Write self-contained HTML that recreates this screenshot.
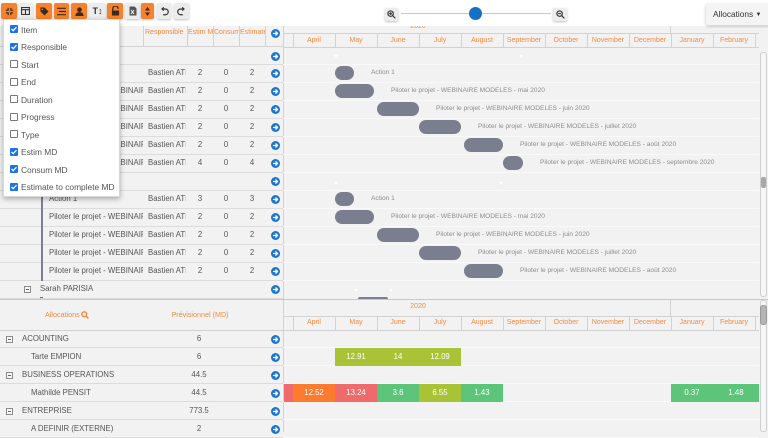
<!DOCTYPE html>
<html><head><meta charset="utf-8">
<style>
*{margin:0;padding:0;box-sizing:border-box}
body{width:768px;height:432px;overflow:hidden;background:#f2f2f2;font-family:"Liberation Sans",Arial,sans-serif;position:relative;color:#555}
.a{position:absolute}
.t{position:absolute;white-space:nowrap;line-height:10px;height:10px}
.row{position:absolute;left:0;width:283px;height:18px;border-bottom:1px solid #dcdcdc}
.grow{position:absolute;left:283px;width:476px;height:18px;border-bottom:1px solid #f9f9f9}
.tx{font-size:7.8px;color:#555}
.clip{position:absolute;overflow:hidden;white-space:nowrap;line-height:10px;height:10px}
.num{position:absolute;width:26px;text-align:center;font-size:7.8px;line-height:10px;color:#555}
.ar{position:absolute;left:271px}
.hd{color:#f58a3e;font-size:7px}
.mo{position:absolute;width:42px;text-align:center;font-size:7px;color:#f58a3e;line-height:10px}
.vl{position:absolute;width:1px;background:#d2d2d2}
.hl{position:absolute;height:1px;background:#d2d2d2}
.bar{position:absolute;height:14.5px;border-radius:7px;background:#7b7e8e}
.gl{position:absolute;font-size:6.6px;color:#8d8d8d;white-space:nowrap;line-height:10px}
.b{position:absolute;top:3px;height:16px;border-radius:2px;box-shadow:0 1px 2px rgba(0,0,0,.25);display:flex;align-items:center;justify-content:center}
.o{background:#f7812c}
.g{background:#ececec}
.mb{position:absolute;width:7px;height:7px;border:1px solid #8a8a8a;background:#f7f7f7}
.mb:after{content:"";position:absolute;left:1px;top:2px;width:3px;height:1px;background:#666}
.cell{position:absolute;height:18px;color:#fff;font-size:7.8px;line-height:18px;text-align:center}
.dd{position:absolute;left:3px;top:19px;width:117px;height:178px;background:#fff;border:1px solid #d8d8d8;box-shadow:0 2px 5px rgba(0,0,0,.3);z-index:10}
.it{position:absolute;left:17px;font-size:8.4px;color:#555;line-height:10px;white-space:nowrap}
.cb{position:absolute;left:6px;width:8px;height:8px;border-radius:1px;line-height:0;overflow:hidden}
.cb svg{display:block}
.ck{background:#1a73e8}
.uc{background:#fff;border:1px solid #777}
.tri{position:absolute;width:0;height:0;border-left:2px solid transparent;border-right:2px solid transparent;border-top:3px solid #fff}
</style></head><body>

<!-- top white bar -->
<div class="a" style="left:0;top:0;width:768px;height:26px;background:#fff;z-index:5"></div>

<!-- toolbar -->
<div style="position:absolute;left:0;top:0;z-index:6">
<div class="b o" style="left:1px;width:16px"><svg width="9" height="9" viewBox="0 0 10 10" fill="none" stroke="#3a2a20" stroke-width="1.3"><path d="M1 3.5h2.5V1M6.5 1v2.5H9M9 6.5H6.5V9M3.5 9V6.5H1"/></svg></div>
<div class="b g" style="left:18px;width:15px"><svg width="9" height="8" viewBox="0 0 10 9" fill="none" stroke="#333" stroke-width="1.2"><rect x="0.6" y="0.6" width="8.8" height="7.8"/><path d="M0.6 3h8.8M5 3v5.4"/></svg></div>
<div class="b o" style="left:36px;width:16px"><svg width="9" height="9" viewBox="0 0 10 10"><path d="M0.5 0.5h4.5l4.5 4.5-4.5 4.5-4.5-4.5z" fill="#3a2a20"/><circle cx="2.6" cy="2.6" r="0.9" fill="#f7812c"/></svg></div>
<div class="b o" style="left:54px;width:15px"><svg width="9" height="9" viewBox="0 0 10 10" stroke="#3a2a20" stroke-width="1.3"><path d="M0 1.5h10M2 5h8M0 8.5h10"/></svg></div>
<div class="b o" style="left:71px;width:16px"><svg width="9" height="9" viewBox="0 0 10 10" fill="#3a2a20"><circle cx="5" cy="3" r="2.6"/><path d="M0.5 10c0-3 2-4.3 4.5-4.3s4.5 1.3 4.5 4.3z"/></svg></div>
<div class="b g" style="left:89px;width:17px;font-size:9px;font-weight:bold;color:#333">T↕</div>
<div class="b o" style="left:107px;width:16px"><svg width="9" height="10" viewBox="0 0 10 11"><path d="M2 5V3a3 3 0 0 1 6 0" fill="none" stroke="#3a2a20" stroke-width="1.4"/><rect x="1" y="5" width="8" height="5.5" fill="#3a2a20"/></svg></div>
<div class="b g" style="left:125px;width:15px"><svg width="8" height="10" viewBox="0 0 8 10"><path d="M0.5 0.5h5l2 2v7h-7z" fill="#555"/><path d="M2 4l3 4M5 4l-3 4" stroke="#fff" stroke-width="0.9"/></svg></div>
<div class="b o" style="left:141px;width:13px"><svg width="5" height="9" viewBox="0 0 5 9" fill="#3a2a20"><path d="M2.5 0 5 3.5H0zM2.5 9 5 5.5H0z"/></svg></div>
<div class="b g" style="left:157px;width:14px"><svg width="9" height="9" viewBox="0 0 10 10" fill="none" stroke="#333" stroke-width="1.3"><path d="M3 2.2h3a3.2 3.2 0 0 1 0 6.4H3.5"/><path d="M4.2 0.4 2.2 2.2 4.2 4" /></svg></div>
<div class="b g" style="left:174px;width:15px"><svg width="9" height="9" viewBox="0 0 10 10" fill="none" stroke="#333" stroke-width="1.3"><path d="M7 2.2H4a3.2 3.2 0 0 0 0 6.4h2.5"/><path d="M5.8 0.4 7.8 2.2 5.8 4"/></svg></div>
</div>

<!-- slider -->
<div style="position:absolute;left:0;top:0;z-index:6">
<div class="a" style="left:385px;top:8px;width:13px;height:13px;background:#ececec;border-radius:2px;box-shadow:0 1px 2px rgba(0,0,0,.25)"><svg class="a" style="left:2px;top:2px" width="9" height="9" viewBox="0 0 10 10" fill="none" stroke="#333" stroke-width="1.3"><circle cx="4" cy="4" r="3"/><path d="M6.2 6.2 9.3 9.3M2.5 4h3M4 2.5v3"/></svg></div>
<div class="a" style="left:401px;top:13px;width:150px;height:1px;background:#c8c8c8"></div>
<div class="a" style="left:468.5px;top:6.5px;width:13px;height:13px;border-radius:50%;background:#1570c6"></div>
<div class="a" style="left:553px;top:8px;width:14px;height:13px;background:#ececec;border-radius:2px;box-shadow:0 1px 2px rgba(0,0,0,.25)"><svg class="a" style="left:2.5px;top:2px" width="9" height="9" viewBox="0 0 10 10" fill="none" stroke="#333" stroke-width="1.3"><circle cx="4" cy="4" r="3"/><path d="M6.2 6.2 9.3 9.3M2.5 4h3"/></svg></div>
<div class="a" style="left:706px;top:4px;width:64px;height:21px;background:#f4f4f4;border-radius:2px;box-shadow:0 1px 3px rgba(0,0,0,.25);font-size:8.3px;color:#333;line-height:21px;padding-left:7px;white-space:nowrap">Allocations <span style="font-size:6px;position:relative;top:-1px">▼</span></div>
</div>

<!-- UPPER LEFT TABLE -->
<div class="a" style="left:0;top:26px;width:283px;height:21px;border-bottom:1px solid #d2d2d2"></div>
<div class="vl" style="left:143px;top:26px;height:21px"></div>
<div class="vl" style="left:187px;top:26px;height:21px"></div>
<div class="vl" style="left:213px;top:26px;height:21px"></div>
<div class="vl" style="left:239px;top:26px;height:21px"></div>
<div class="vl" style="left:265px;top:26px;height:21px"></div>
<div class="clip hd" style="left:20px;top:28px;width:120px">Item</div>
<div class="clip hd" style="left:145px;top:28px;width:41px">Responsible</div>
<div class="clip hd" style="left:188px;top:28px;width:25px">Estim MD</div>
<div class="clip hd" style="left:214px;top:28px;width:25px">Consum MD</div>
<div class="clip hd" style="left:240px;top:28px;width:25px">Estimate to complete MD</div>
<svg class="ar" style="top:28.5px" width="9" height="9" viewBox="0 0 10 10"><circle cx="5" cy="5" r="5" fill="#1c75cf"/><path d="M2.3 5H7M5 2.8 7.2 5 5 7.2" stroke="#fff" stroke-width="1.5" fill="none"/></svg>

<div class="row" style="top:47px"></div>
<div class="row" style="top:65px"></div>
<div class="row" style="top:83px"></div>
<div class="row" style="top:101px"></div>
<div class="row" style="top:119px"></div>
<div class="row" style="top:137px"></div>
<div class="row" style="top:155px"></div>
<div class="row" style="top:173px"></div>
<div class="row" style="top:191px"></div>
<div class="row" style="top:209px"></div>
<div class="row" style="top:227px"></div>
<div class="row" style="top:245px"></div>
<div class="row" style="top:263px"></div>
<div class="row" style="top:281px"></div>

<!-- vertical bars -->
<div class="a" style="left:41px;top:65px;width:2px;height:108px;background:#7b7e8e"></div>
<div class="a" style="left:41px;top:191px;width:2px;height:90px;background:#7b7e8e"></div>

<!-- row texts -->
<div class="mb" style="left:24px;top:52px"></div><div class="clip tx" style="left:40px;top:51px;width:100px">Bastien ATI</div>
<div class="clip tx" style="left:49px;top:68px;width:94px">Action 1</div>
<div class="clip tx" style="left:49px;top:86px;width:94px">Piloter le projet - WEBINAIRE MODELES - mai 2020</div>
<div class="clip tx" style="left:49px;top:104px;width:94px">Piloter le projet - WEBINAIRE MODELES - juin 2020</div>
<div class="clip tx" style="left:49px;top:122px;width:94px">Piloter le projet - WEBINAIRE MODELES - juillet 2020</div>
<div class="clip tx" style="left:49px;top:140px;width:94px">Piloter le projet - WEBINAIRE MODELES - août 2020</div>
<div class="clip tx" style="left:49px;top:158px;width:94px">Piloter le projet - WEBINAIRE MODELES - septembre 2020</div>
<div class="mb" style="left:24px;top:178px"></div><div class="clip tx" style="left:40px;top:177px;width:100px">Bastien ATI</div>
<div class="clip tx" style="left:49px;top:194px;width:94px">Action 1</div>
<div class="clip tx" style="left:49px;top:212px;width:94px">Piloter le projet - WEBINAIRE MODELES - mai 2020</div>
<div class="clip tx" style="left:49px;top:230px;width:94px">Piloter le projet - WEBINAIRE MODELES - juin 2020</div>
<div class="clip tx" style="left:49px;top:248px;width:94px">Piloter le projet - WEBINAIRE MODELES - juillet 2020</div>
<div class="clip tx" style="left:49px;top:266px;width:94px">Piloter le projet - WEBINAIRE MODELES - août 2020</div>
<div class="mb" style="left:24px;top:286px"></div><div class="clip tx" style="left:40px;top:284px;width:100px">Sarah PARISIA</div>

<!-- responsible + numbers -->
<div class="clip tx" style="left:148px;top:68px;width:38px">Bastien ATI</div><div class="num" style="left:187px;top:68px">2</div><div class="num" style="left:213px;top:68px">0</div><div class="num" style="left:239px;top:68px">2</div>
<div class="clip tx" style="left:148px;top:86px;width:38px">Bastien ATI</div><div class="num" style="left:187px;top:86px">2</div><div class="num" style="left:213px;top:86px">0</div><div class="num" style="left:239px;top:86px">2</div>
<div class="clip tx" style="left:148px;top:104px;width:38px">Bastien ATI</div><div class="num" style="left:187px;top:104px">2</div><div class="num" style="left:213px;top:104px">0</div><div class="num" style="left:239px;top:104px">2</div>
<div class="clip tx" style="left:148px;top:122px;width:38px">Bastien ATI</div><div class="num" style="left:187px;top:122px">2</div><div class="num" style="left:213px;top:122px">0</div><div class="num" style="left:239px;top:122px">2</div>
<div class="clip tx" style="left:148px;top:140px;width:38px">Bastien ATI</div><div class="num" style="left:187px;top:140px">2</div><div class="num" style="left:213px;top:140px">0</div><div class="num" style="left:239px;top:140px">2</div>
<div class="clip tx" style="left:148px;top:158px;width:38px">Bastien ATI</div><div class="num" style="left:187px;top:158px">4</div><div class="num" style="left:213px;top:158px">0</div><div class="num" style="left:239px;top:158px">4</div>
<div class="clip tx" style="left:148px;top:194px;width:38px">Bastien ATI</div><div class="num" style="left:187px;top:194px">3</div><div class="num" style="left:213px;top:194px">0</div><div class="num" style="left:239px;top:194px">3</div>
<div class="clip tx" style="left:148px;top:212px;width:38px">Bastien ATI</div><div class="num" style="left:187px;top:212px">2</div><div class="num" style="left:213px;top:212px">0</div><div class="num" style="left:239px;top:212px">2</div>
<div class="clip tx" style="left:148px;top:230px;width:38px">Bastien ATI</div><div class="num" style="left:187px;top:230px">2</div><div class="num" style="left:213px;top:230px">0</div><div class="num" style="left:239px;top:230px">2</div>
<div class="clip tx" style="left:148px;top:248px;width:38px">Bastien ATI</div><div class="num" style="left:187px;top:248px">2</div><div class="num" style="left:213px;top:248px">0</div><div class="num" style="left:239px;top:248px">2</div>
<div class="clip tx" style="left:148px;top:266px;width:38px">Bastien ATI</div><div class="num" style="left:187px;top:266px">2</div><div class="num" style="left:213px;top:266px">0</div><div class="num" style="left:239px;top:266px">2</div>

<!-- arrows upper -->
<svg class="ar" style="top:51.5px" width="9" height="9" viewBox="0 0 10 10"><circle cx="5" cy="5" r="5" fill="#1c75cf"/><path d="M2.3 5H7M5 2.8 7.2 5 5 7.2" stroke="#fff" stroke-width="1.5" fill="none"/></svg>
<svg class="ar" style="top:69px" width="9" height="9" viewBox="0 0 10 10"><circle cx="5" cy="5" r="5" fill="#1c75cf"/><path d="M2.3 5H7M5 2.8 7.2 5 5 7.2" stroke="#fff" stroke-width="1.5" fill="none"/></svg>
<svg class="ar" style="top:87px" width="9" height="9" viewBox="0 0 10 10"><circle cx="5" cy="5" r="5" fill="#1c75cf"/><path d="M2.3 5H7M5 2.8 7.2 5 5 7.2" stroke="#fff" stroke-width="1.5" fill="none"/></svg>
<svg class="ar" style="top:105px" width="9" height="9" viewBox="0 0 10 10"><circle cx="5" cy="5" r="5" fill="#1c75cf"/><path d="M2.3 5H7M5 2.8 7.2 5 5 7.2" stroke="#fff" stroke-width="1.5" fill="none"/></svg>
<svg class="ar" style="top:123px" width="9" height="9" viewBox="0 0 10 10"><circle cx="5" cy="5" r="5" fill="#1c75cf"/><path d="M2.3 5H7M5 2.8 7.2 5 5 7.2" stroke="#fff" stroke-width="1.5" fill="none"/></svg>
<svg class="ar" style="top:141px" width="9" height="9" viewBox="0 0 10 10"><circle cx="5" cy="5" r="5" fill="#1c75cf"/><path d="M2.3 5H7M5 2.8 7.2 5 5 7.2" stroke="#fff" stroke-width="1.5" fill="none"/></svg>
<svg class="ar" style="top:159px" width="9" height="9" viewBox="0 0 10 10"><circle cx="5" cy="5" r="5" fill="#1c75cf"/><path d="M2.3 5H7M5 2.8 7.2 5 5 7.2" stroke="#fff" stroke-width="1.5" fill="none"/></svg>
<svg class="ar" style="top:177px" width="9" height="9" viewBox="0 0 10 10"><circle cx="5" cy="5" r="5" fill="#1c75cf"/><path d="M2.3 5H7M5 2.8 7.2 5 5 7.2" stroke="#fff" stroke-width="1.5" fill="none"/></svg>
<svg class="ar" style="top:195px" width="9" height="9" viewBox="0 0 10 10"><circle cx="5" cy="5" r="5" fill="#1c75cf"/><path d="M2.3 5H7M5 2.8 7.2 5 5 7.2" stroke="#fff" stroke-width="1.5" fill="none"/></svg>
<svg class="ar" style="top:213px" width="9" height="9" viewBox="0 0 10 10"><circle cx="5" cy="5" r="5" fill="#1c75cf"/><path d="M2.3 5H7M5 2.8 7.2 5 5 7.2" stroke="#fff" stroke-width="1.5" fill="none"/></svg>
<svg class="ar" style="top:231px" width="9" height="9" viewBox="0 0 10 10"><circle cx="5" cy="5" r="5" fill="#1c75cf"/><path d="M2.3 5H7M5 2.8 7.2 5 5 7.2" stroke="#fff" stroke-width="1.5" fill="none"/></svg>
<svg class="ar" style="top:249px" width="9" height="9" viewBox="0 0 10 10"><circle cx="5" cy="5" r="5" fill="#1c75cf"/><path d="M2.3 5H7M5 2.8 7.2 5 5 7.2" stroke="#fff" stroke-width="1.5" fill="none"/></svg>
<svg class="ar" style="top:267px" width="9" height="9" viewBox="0 0 10 10"><circle cx="5" cy="5" r="5" fill="#1c75cf"/><path d="M2.3 5H7M5 2.8 7.2 5 5 7.2" stroke="#fff" stroke-width="1.5" fill="none"/></svg>
<svg class="ar" style="top:285px" width="9" height="9" viewBox="0 0 10 10"><circle cx="5" cy="5" r="5" fill="#1c75cf"/><path d="M2.3 5H7M5 2.8 7.2 5 5 7.2" stroke="#fff" stroke-width="1.5" fill="none"/></svg>
<div class="a" style="left:40px;top:297px;width:3px;height:1px;background:#666"></div>

<!-- separator between table and gantt -->
<div class="vl" style="left:283px;top:26px;height:406px"></div>

<!-- UPPER GANTT HEADER -->
<div class="t" style="left:398px;top:22px;width:40px;text-align:center;font-size:7px;color:#f58a3e">2020</div>
<div class="vl" style="left:670px;top:26px;height:7px"></div>
<div class="hl" style="left:284px;top:33px;width:475px"></div>
<div class="hl" style="left:284px;top:47px;width:475px"></div>
<div class="vl" style="left:293px;top:33px;height:14px"></div>
<div class="vl" style="left:335px;top:33px;height:14px"></div>
<div class="vl" style="left:377px;top:33px;height:14px"></div>
<div class="vl" style="left:419px;top:33px;height:14px"></div>
<div class="vl" style="left:461px;top:33px;height:14px"></div>
<div class="vl" style="left:503px;top:33px;height:14px"></div>
<div class="vl" style="left:545px;top:33px;height:14px"></div>
<div class="vl" style="left:587px;top:33px;height:14px"></div>
<div class="vl" style="left:629px;top:33px;height:14px"></div>
<div class="vl" style="left:671px;top:33px;height:14px"></div>
<div class="vl" style="left:713px;top:33px;height:14px"></div>
<div class="vl" style="left:755px;top:33px;height:14px"></div>
<div class="mo" style="left:293px;top:36px">April</div>
<div class="mo" style="left:335px;top:36px">May</div>
<div class="mo" style="left:377px;top:36px">June</div>
<div class="mo" style="left:419px;top:36px">July</div>
<div class="mo" style="left:461px;top:36px">August</div>
<div class="mo" style="left:503px;top:36px">September</div>
<div class="mo" style="left:545px;top:36px">October</div>
<div class="mo" style="left:587px;top:36px">November</div>
<div class="mo" style="left:629px;top:36px">December</div>
<div class="mo" style="left:671px;top:36px">January</div>
<div class="mo" style="left:713px;top:36px">February</div>

<!-- gantt rows -->
<div class="grow" style="top:47px"></div><div class="grow" style="top:65px"></div><div class="grow" style="top:83px"></div><div class="grow" style="top:101px"></div><div class="grow" style="top:119px"></div><div class="grow" style="top:137px"></div><div class="grow" style="top:155px"></div><div class="grow" style="top:173px"></div><div class="grow" style="top:191px"></div><div class="grow" style="top:209px"></div><div class="grow" style="top:227px"></div><div class="grow" style="top:245px"></div><div class="grow" style="top:263px"></div>

<!-- summary markers -->
<div class="tri" style="left:334px;top:55px"></div><div class="tri" style="left:519px;top:55px"></div>
<div class="tri" style="left:334px;top:182px"></div><div class="tri" style="left:499px;top:182px"></div>
<div class="tri" style="left:354px;top:289px"></div><div class="tri" style="left:389px;top:289px"></div>
<div class="a" style="left:358px;top:297px;width:30px;height:3px;background:#7b7e8e;border-radius:2px 2px 0 0"></div>

<!-- bars -->
<div class="bar" style="left:335px;top:65.5px;width:19px"></div><div class="gl" style="left:371px;top:67.7px">Action 1</div>
<div class="bar" style="left:335px;top:83.5px;width:39px"></div><div class="gl" style="left:391px;top:85.7px">Piloter le projet - WEBINAIRE MODELES - mai 2020</div>
<div class="bar" style="left:377px;top:101.5px;width:42px"></div><div class="gl" style="left:436px;top:103.7px">Piloter le projet - WEBINAIRE MODELES - juin 2020</div>
<div class="bar" style="left:419px;top:119.5px;width:42px"></div><div class="gl" style="left:478px;top:121.7px">Piloter le projet - WEBINAIRE MODELES - juillet 2020</div>
<div class="bar" style="left:464px;top:137.5px;width:39px"></div><div class="gl" style="left:520px;top:139.7px">Piloter le projet - WEBINAIRE MODELES - août 2020</div>
<div class="bar" style="left:503px;top:155.5px;width:20px"></div><div class="gl" style="left:540px;top:157.7px">Piloter le projet - WEBINAIRE MODELES - septembre 2020</div>
<div class="bar" style="left:335px;top:191.5px;width:19px"></div><div class="gl" style="left:371px;top:193.7px">Action 1</div>
<div class="bar" style="left:335px;top:209.5px;width:39px"></div><div class="gl" style="left:391px;top:211.7px">Piloter le projet - WEBINAIRE MODELES - mai 2020</div>
<div class="bar" style="left:377px;top:227.5px;width:42px"></div><div class="gl" style="left:436px;top:229.7px">Piloter le projet - WEBINAIRE MODELES - juin 2020</div>
<div class="bar" style="left:419px;top:245.5px;width:42px"></div><div class="gl" style="left:478px;top:247.7px">Piloter le projet - WEBINAIRE MODELES - juillet 2020</div>
<div class="bar" style="left:464px;top:263.5px;width:39px"></div><div class="gl" style="left:520px;top:265.7px">Piloter le projet - WEBINAIRE MODELES - août 2020</div>

<!-- upper scrollbar -->
<div class="a" style="left:760px;top:52px;width:7px;height:245px;border:1px solid #cfcfcf;border-radius:3px;background:#f6f6f6"></div>
<div class="a" style="left:761px;top:177px;width:5px;height:11px;border-radius:2px;background:#a8a8a8"></div>

<!-- pane divider -->
<div class="hl" style="left:0;top:299px;width:768px;background:#c8c8c8"></div>

<!-- LOWER LEFT -->
<div class="a" style="left:0;top:330px;width:283px;height:1px;background:#d2d2d2"></div>
<div class="t" style="left:45px;top:310px;font-size:7.2px;color:#f58a3e">Allocations</div>
<svg class="a" style="left:81px;top:311px" width="8" height="8" viewBox="0 0 10 10" fill="none" stroke="#f58a3e" stroke-width="1.8"><circle cx="4" cy="4" r="3"/><path d="M6.2 6.2 9.3 9.3"/></svg>
<div class="t" style="left:160px;top:310px;width:80px;text-align:center;font-size:7.2px;color:#f58a3e">Prévisionnel (MD)</div>

<div class="row" style="top:330px"></div>
<div class="row" style="top:348px"></div>
<div class="row" style="top:366px"></div>
<div class="row" style="top:384px"></div>
<div class="row" style="top:402px"></div>
<div class="row" style="top:420px"></div>

<div class="mb" style="left:6px;top:336px"></div><div class="t tx" style="left:22px;top:334px">ACOUNTING</div><div class="t tx" style="left:186px;top:334px;width:26px;text-align:center">6</div>
<div class="t tx" style="left:31px;top:352px">Tarte EMPION</div><div class="t tx" style="left:186px;top:352px;width:26px;text-align:center">6</div>
<div class="mb" style="left:6px;top:372px"></div><div class="t tx" style="left:22px;top:370px">BUSINESS OPERATIONS</div><div class="t tx" style="left:186px;top:370px;width:26px;text-align:center">44.5</div>
<div class="t tx" style="left:31px;top:388px">Mathilde PENSIT</div><div class="t tx" style="left:186px;top:388px;width:26px;text-align:center">44.5</div>
<div class="mb" style="left:6px;top:408px"></div><div class="t tx" style="left:22px;top:406px">ENTREPRISE</div><div class="t tx" style="left:186px;top:406px;width:26px;text-align:center">773.5</div>
<div class="t tx" style="left:31px;top:424px">A DEFINIR (EXTERNE)</div><div class="t tx" style="left:186px;top:424px;width:26px;text-align:center">2</div>

<svg class="ar" style="top:334.5px" width="9" height="9" viewBox="0 0 10 10"><circle cx="5" cy="5" r="5" fill="#1c75cf"/><path d="M2.3 5H7M5 2.8 7.2 5 5 7.2" stroke="#fff" stroke-width="1.5" fill="none"/></svg>
<svg class="ar" style="top:352.5px" width="9" height="9" viewBox="0 0 10 10"><circle cx="5" cy="5" r="5" fill="#1c75cf"/><path d="M2.3 5H7M5 2.8 7.2 5 5 7.2" stroke="#fff" stroke-width="1.5" fill="none"/></svg>
<svg class="ar" style="top:370.5px" width="9" height="9" viewBox="0 0 10 10"><circle cx="5" cy="5" r="5" fill="#1c75cf"/><path d="M2.3 5H7M5 2.8 7.2 5 5 7.2" stroke="#fff" stroke-width="1.5" fill="none"/></svg>
<svg class="ar" style="top:388.5px" width="9" height="9" viewBox="0 0 10 10"><circle cx="5" cy="5" r="5" fill="#1c75cf"/><path d="M2.3 5H7M5 2.8 7.2 5 5 7.2" stroke="#fff" stroke-width="1.5" fill="none"/></svg>
<svg class="ar" style="top:406.5px" width="9" height="9" viewBox="0 0 10 10"><circle cx="5" cy="5" r="5" fill="#1c75cf"/><path d="M2.3 5H7M5 2.8 7.2 5 5 7.2" stroke="#fff" stroke-width="1.5" fill="none"/></svg>
<svg class="ar" style="top:424.5px" width="9" height="9" viewBox="0 0 10 10"><circle cx="5" cy="5" r="5" fill="#1c75cf"/><path d="M2.3 5H7M5 2.8 7.2 5 5 7.2" stroke="#fff" stroke-width="1.5" fill="none"/></svg>

<!-- LOWER GANTT HEADER -->
<div class="t" style="left:398px;top:302px;width:40px;text-align:center;font-size:7px;color:#f58a3e">2020</div>
<div class="vl" style="left:670px;top:300px;height:16px"></div>
<div class="hl" style="left:284px;top:316px;width:475px"></div>
<div class="hl" style="left:284px;top:330px;width:475px"></div>
<div class="vl" style="left:293px;top:316px;height:14px"></div>
<div class="vl" style="left:335px;top:316px;height:14px"></div>
<div class="vl" style="left:377px;top:316px;height:14px"></div>
<div class="vl" style="left:419px;top:316px;height:14px"></div>
<div class="vl" style="left:461px;top:316px;height:14px"></div>
<div class="vl" style="left:503px;top:316px;height:14px"></div>
<div class="vl" style="left:545px;top:316px;height:14px"></div>
<div class="vl" style="left:587px;top:316px;height:14px"></div>
<div class="vl" style="left:629px;top:316px;height:14px"></div>
<div class="vl" style="left:671px;top:316px;height:14px"></div>
<div class="vl" style="left:713px;top:316px;height:14px"></div>
<div class="vl" style="left:755px;top:316px;height:14px"></div>
<div class="mo" style="left:293px;top:318px">April</div>
<div class="mo" style="left:335px;top:318px">May</div>
<div class="mo" style="left:377px;top:318px">June</div>
<div class="mo" style="left:419px;top:318px">July</div>
<div class="mo" style="left:461px;top:318px">August</div>
<div class="mo" style="left:503px;top:318px">September</div>
<div class="mo" style="left:545px;top:318px">October</div>
<div class="mo" style="left:587px;top:318px">November</div>
<div class="mo" style="left:629px;top:318px">December</div>
<div class="mo" style="left:671px;top:318px">January</div>
<div class="mo" style="left:713px;top:318px">February</div>

<div class="grow" style="top:330px"></div><div class="grow" style="top:348px"></div><div class="grow" style="top:366px"></div><div class="grow" style="top:384px"></div><div class="grow" style="top:402px"></div><div class="grow" style="top:420px"></div>

<!-- lower cells -->
<div class="cell" style="left:335px;top:348px;width:42px;background:#a9c337">12.91</div>
<div class="cell" style="left:377px;top:348px;width:42px;background:#a9c337">14</div>
<div class="cell" style="left:419px;top:348px;width:42px;background:#a9c337">12.09</div>

<div class="cell" style="left:284px;top:384px;width:9px;background:#ef6b6b"></div>
<div class="cell" style="left:293px;top:384px;width:42px;background:#fd7b2f">12.52</div>
<div class="cell" style="left:335px;top:384px;width:42px;background:#ef6b6b">13.24</div>
<div class="cell" style="left:377px;top:384px;width:42px;background:#5cc57a">3.6</div>
<div class="cell" style="left:419px;top:384px;width:42px;background:#a9c337">6.55</div>
<div class="cell" style="left:461px;top:384px;width:42px;background:#5cc57a">1.43</div>
<div class="cell" style="left:671px;top:384px;width:42px;background:#5cc57a">0.37</div>
<div class="cell" style="left:713px;top:384px;width:46px;background:#5cc57a">1.48</div>

<!-- lower scrollbar -->
<div class="a" style="left:760px;top:300px;width:7px;height:132px;border:1px solid #cfcfcf;border-radius:3px;background:#f6f6f6"></div>
<div class="a" style="left:760px;top:305px;width:7px;height:20px;border-radius:3px;background:#b5b5b5;border:1px solid #9a9a9a"></div>

<!-- DROPDOWN -->
<div class="dd">
<div class="cb ck" style="top:5px"><svg width="8" height="8" viewBox="0 0 8 8"><path d="M1.5 4 3.2 5.7 6.5 2.2" stroke="#fff" stroke-width="1.3" fill="none"/></svg></div><div class="it" style="top:4.5px">Item</div>
<div class="cb ck" style="top:22.5px"><svg width="8" height="8" viewBox="0 0 8 8"><path d="M1.5 4 3.2 5.7 6.5 2.2" stroke="#fff" stroke-width="1.3" fill="none"/></svg></div><div class="it" style="top:22px">Responsible</div>
<div class="cb uc" style="top:40px"></div><div class="it" style="top:39.5px">Start</div>
<div class="cb uc" style="top:57.5px"></div><div class="it" style="top:57px">End</div>
<div class="cb uc" style="top:75px"></div><div class="it" style="top:74.5px">Duration</div>
<div class="cb uc" style="top:92.5px"></div><div class="it" style="top:92px">Progress</div>
<div class="cb uc" style="top:110px"></div><div class="it" style="top:109.5px">Type</div>
<div class="cb ck" style="top:127.5px"><svg width="8" height="8" viewBox="0 0 8 8"><path d="M1.5 4 3.2 5.7 6.5 2.2" stroke="#fff" stroke-width="1.3" fill="none"/></svg></div><div class="it" style="top:127px">Estim MD</div>
<div class="cb ck" style="top:145px"><svg width="8" height="8" viewBox="0 0 8 8"><path d="M1.5 4 3.2 5.7 6.5 2.2" stroke="#fff" stroke-width="1.3" fill="none"/></svg></div><div class="it" style="top:144.5px">Consum MD</div>
<div class="cb ck" style="top:162.5px"><svg width="8" height="8" viewBox="0 0 8 8"><path d="M1.5 4 3.2 5.7 6.5 2.2" stroke="#fff" stroke-width="1.3" fill="none"/></svg></div><div class="it" style="top:162px">Estimate to complete MD</div>
</div>

</body></html>
